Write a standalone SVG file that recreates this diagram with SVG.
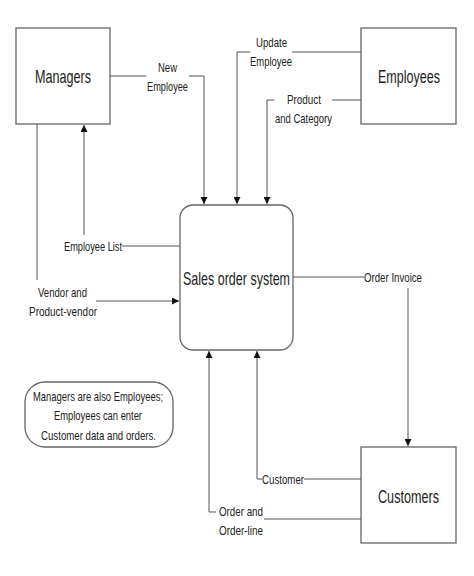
<svg xmlns="http://www.w3.org/2000/svg" width="474" height="576" viewBox="0 0 474 576">
<defs>
<marker id="arr" viewBox="0 0 10 10" refX="10" refY="5" markerWidth="7" markerHeight="7" orient="auto" markerUnits="userSpaceOnUse">
<path d="M0,0 L10,5 L0,10 z" fill="#111"/>
</marker>
<style>
.box{fill:#fff;stroke:#666;stroke-width:1.3}
.ln{fill:none;stroke:#555;stroke-width:1}
text{font-family:"Liberation Sans",Arial,sans-serif;fill:#222}
.big{font-size:18.5px}
.sm{font-size:13.5px}
</style>
</defs>
<rect width="474" height="576" fill="#fff"/>
<g id="managers"><rect class="box" x="16" y="28" width="94" height="96"/><text class="big" x="35" y="83" textLength="56" lengthAdjust="spacingAndGlyphs">Managers</text></g>
<g id="employees"><rect class="box" x="361" y="28" width="95" height="96"/><text class="big" x="378" y="83" textLength="62" lengthAdjust="spacingAndGlyphs">Employees</text></g>
<g id="sales"><rect class="box" x="180" y="205" width="113" height="145" rx="13"/><text class="big" x="183" y="285" textLength="107" lengthAdjust="spacingAndGlyphs">Sales order system</text></g>
<g id="customers"><rect class="box" x="361" y="447" width="95" height="96"/><text class="big" x="378" y="503" textLength="61" lengthAdjust="spacingAndGlyphs">Customers</text></g>
<g id="note"><rect class="box" x="25" y="382" width="148" height="65" rx="20"/>
<text class="sm" x="33" y="401" textLength="130" lengthAdjust="spacingAndGlyphs">Managers are also Employees;</text>
<text class="sm" x="54" y="420" textLength="88" lengthAdjust="spacingAndGlyphs">Employees can enter</text>
<text class="sm" x="41" y="440" textLength="115" lengthAdjust="spacingAndGlyphs">Customer data and orders.</text></g>
<g id="connectors">
<path class="ln" d="M110,76 H146 M189,76 H204 V204" marker-end="url(#arr)"/>
<text class="sm" x="158" y="72" textLength="19" lengthAdjust="spacingAndGlyphs">New</text>
<text class="sm" x="147" y="91" textLength="41" lengthAdjust="spacingAndGlyphs">Employee</text>
<path class="ln" d="M361,52 H292 M250,52 H237 V204" marker-end="url(#arr)"/>
<text class="sm" x="256" y="47" textLength="31" lengthAdjust="spacingAndGlyphs">Update</text>
<text class="sm" x="250" y="66" textLength="42" lengthAdjust="spacingAndGlyphs">Employee</text>
<path class="ln" d="M361,100 H332 M274,100 H267 V204" marker-end="url(#arr)"/>
<text class="sm" x="287" y="104" textLength="34" lengthAdjust="spacingAndGlyphs">Product</text>
<text class="sm" x="275" y="123" textLength="57" lengthAdjust="spacingAndGlyphs">and Category</text>
<path class="ln" d="M180,246 H122"/>
<path class="ln" d="M84,235 V125" marker-end="url(#arr)"/>
<text class="sm" x="64" y="251" textLength="58" lengthAdjust="spacingAndGlyphs">Employee List</text>
<path class="ln" d="M37,124 V280"/>
<path class="ln" d="M96,301 H179" marker-end="url(#arr)"/>
<text class="sm" x="38" y="297" textLength="49" lengthAdjust="spacingAndGlyphs">Vendor and</text>
<text class="sm" x="29" y="316" textLength="68" lengthAdjust="spacingAndGlyphs">Product-vendor</text>
<path class="ln" d="M293,277 H364"/>
<text class="sm" x="364" y="282" textLength="58" lengthAdjust="spacingAndGlyphs">Order Invoice</text>
<path class="ln" d="M408,288 V446" marker-end="url(#arr)"/>
<path class="ln" d="M361,479 H304"/>
<text class="sm" x="262" y="484" textLength="42" lengthAdjust="spacingAndGlyphs">Customer</text>
<path class="ln" d="M262,479 H257 V351" marker-end="url(#arr)"/>
<path class="ln" d="M361,519 H264"/>
<path class="ln" d="M216,512 H209 V351" marker-end="url(#arr)"/>
<text class="sm" x="219" y="516" textLength="44" lengthAdjust="spacingAndGlyphs">Order and</text>
<text class="sm" x="219" y="535" textLength="44" lengthAdjust="spacingAndGlyphs">Order-line</text>
</g>
</svg>
